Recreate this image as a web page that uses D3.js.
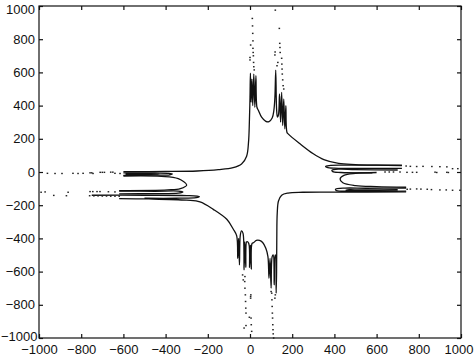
<!DOCTYPE html>
<html>
<head>
<meta charset="utf-8">
<script src="https://cdn.jsdelivr.net/npm/d3@7"></script>
<style>
  body { margin: 0; background: #fff; }
  text { font-family: "Liberation Sans", Arial, sans-serif; font-size: 13px; fill: #111; }
</style>
</head>
<body>
<svg id="chart" width="474" height="361"></svg>
<script>
var xTicks = [-1000, -800, -600, -400, -200, 0, 200, 400, 600, 800, 1000];
var yTicks = [-1000, -800, -600, -400, -200, 0, 200, 400, 600, 800, 1000];

// upper branch: left arm, spikes above, right arm
var upperArm = [[-600,2],[-400,3],[-250,6],[-150,14],[-80,26],[-40,48],[-16,95],[-7,180],[-3,300],[0,450],[2,596],
  [5,420],[9,560],[13,400],[18,590],[23,390],[28,580],[33,390],[40,370],[55,330],[75,305],[90,303],[105,325],
  [113,370],[118,450],[122,614],[126,380],[130,330],[135,345],[140,470],[145,300],[150,480],[155,280],[160,440],
  [165,260],[170,400],[175,240],[182,228],[237,170],[300,110],[350,75],[420,52],[500,45],[600,41],[720,38]];

// lower branch: left arm, spikes below, right arm
var lowerArm = [[-620,-160],[-480,-162],[-300,-170],[-237,-180],[-174,-225],[-110,-285],[-79,-345],[-63,-385],
  [-58,-520],[-54,-400],[-50,-560],[-46,-380],[-40,-355],[-33,-370],[-28,-590],[-24,-420],[-20,-575],[-15,-420],
  [-6,-430],[-2,-575],[2,-440],[6,-585],[10,-430],[18,-425],[30,-412],[45,-412],[60,-425],[75,-460],[85,-510],
  [90,-640],[95,-520],[100,-700],[105,-510],[110,-500],[115,-680],[118,-510],[121,-500],[124,-730],[126,-600],
  [127,-400],[129,-250],[135,-175],[150,-140],[180,-127],[250,-122],[400,-121],[740,-120]];

var rightLoops = [
  [[720,22],[500,22],[400,23],[365,28],[358,34],[375,39],[450,41],[720,42]],
  [[700,12],[500,14],[420,17],[388,10],[392,2],[430,-3],[580,-5]],
  [[600,-3],[500,-8],[445,-20],[427,-42],[440,-65],[500,-82],[600,-88],[740,-92]],
  [[740,-97],[550,-98],[450,-97],[405,-104],[410,-112],[480,-116],[740,-115]],
  [[700,-106],[520,-108],[470,-107],[455,-110],[470,-113],[700,-113]]
];

var leftLoops = [
  [[-600,-5],[-450,-6],[-385,-8],[-368,-12],[-380,-17],[-450,-19],[-600,-20]],
  [[-590,-9],[-470,-10],[-430,-12],[-470,-14],[-590,-15]],
  [[-600,-24],[-420,-26],[-340,-40],[-300,-78],[-330,-100],[-390,-108],[-620,-112]],
  [[-620,-115],[-450,-116],[-340,-115],[-318,-120],[-340,-127],[-450,-130],[-620,-132]],
  [[-750,-140],[-500,-140],[-300,-142],[-240,-148],[-255,-155],[-350,-158],[-500,-158]]
];

var dots = [
  [11,925],[12,880],[13,835],[14,790],[3,765],[14,745],[15,720],[0,690],[0,675],[16,700],[17,660],[18,634],[20,615],
  [120,975],[139,865],[141,775],[142,750],[143,720],[119,723],[118,705],[150,685],[151,650],[152,620],[153,590],
  [155,555],[157,520],[160,500],[132,660],[128,640],
  [-24,-630],[-25,-660],[-24,-700],[-22,-740],[-21,-780],[-20,-820],[-19,-850],[-35,-620],[-32,-650],[-19,-925],
  [-28,-940],[3,-750],[3,-760],[4,-740],[5,-880],[6,-920],[8,-960],[-3,-875],[103,-730],[104,-770],[105,-810],
  [106,-850],[107,-880],[108,-920],[109,-950],[110,-975],[112,-1000],[120,-740],[118,-760],[100,-720],
  [-960,-8],[-924,-9],[-891,-9],[-839,-8],[-815,-9],[-791,-8],[-758,-5],[-750,-5],[-744,-9],[-710,-2],[-700,-2],
  [-690,-2],[-640,-8],[-616,-9],[-660,-1],[-650,-1],
  [-990,-122],[-971,-120],[-862,-122],[-758,-118],[-745,-118],[-725,-118],[-711,-118],[-671,-119],[-640,-120],
  [-930,-141],[-870,-143],[-760,-143],[-740,-144],[-720,-144],[-700,-145],[-680,-145],[-660,-146],[-640,-146],[-620,-146],
  [740,36],[760,34],[790,33],[820,34],[862,33],[900,32],[933,31],[960,20],[985,20],
  [640,0],[660,0],[680,0],[711,0],[744,-2],[770,-2],[790,-2],[877,-1],[885,-3],[933,-2],[940,-3],
  [745,-104],[760,-103],[790,-102],[810,-103],[840,-104],[860,-106],[900,-108],[930,-108],[960,-110],[995,-110]
];

var margin = {left: 39, right: 13, top: 6, bottom: 23};
var width = 474, height = 361;
var svg = d3.select("#chart");

var x = d3.scaleLinear().domain([-1000, 1000]).range([margin.left, width - margin.right]);
var y = d3.scaleLinear().domain([-1000, 1000]).range([height - margin.bottom, margin.top]);

var line = d3.line()
  .x(d => x(d[0]))
  .y(d => y(d[1]))
  .curve(d3.curveCatmullRom.alpha(0.5));

var plot = svg.append("g");

var curves = [upperArm, lowerArm].concat(rightLoops, leftLoops);
plot.selectAll("path.curve")
  .data(curves)
  .enter().append("path")
  .attr("class", "curve")
  .attr("d", line)
  .attr("fill", "none")
  .attr("stroke", "#111")
  .attr("stroke-width", 1.3);

plot.selectAll("rect.dot")
  .data(dots)
  .enter().append("rect")
  .attr("class", "dot")
  .attr("x", d => x(d[0]) - 0.8)
  .attr("y", d => y(d[1]) - 0.7)
  .attr("width", 1.6)
  .attr("height", 1.4)
  .attr("fill", "#222");

// axes, ticks pointing inward on all four sides
var tickLen = 4;
var fmt = d3.format("d");
svg.append("g")
  .attr("class", "xaxis")
  .attr("transform", "translate(0," + y(-1000) + ")")
  .call(d3.axisBottom(x).tickValues(xTicks).tickSizeInner(-tickLen).tickSizeOuter(0).tickPadding(7).tickFormat(fmt))
  .call(g => g.select(".domain").remove());
svg.append("g")
  .attr("transform", "translate(0," + y(1000) + ")")
  .call(d3.axisTop(x).tickValues(xTicks).tickSizeInner(-tickLen).tickSizeOuter(0).tickFormat(""))
  .call(g => g.select(".domain").remove());
svg.append("g")
  .attr("class", "yaxis")
  .attr("transform", "translate(" + x(-1000) + ",0)")
  .call(d3.axisLeft(y).tickValues(yTicks).tickSizeInner(-tickLen).tickSizeOuter(0).tickPadding(4).tickFormat(fmt))
  .call(g => g.select(".domain").remove());
svg.append("g")
  .attr("transform", "translate(" + x(1000) + ",0)")
  .call(d3.axisRight(y).tickValues(yTicks).tickSizeInner(-tickLen).tickSizeOuter(0).tickFormat(""))
  .call(g => g.select(".domain").remove());

svg.selectAll(".tick line").attr("stroke", "#111").attr("stroke-width", 1.2);
svg.selectAll(".tick text").attr("font-size", "13px").attr("font-family", "Liberation Sans, Arial, sans-serif").attr("fill", "#111");

// keep the outermost labels inside the picture
svg.selectAll(".xaxis .tick text").filter(d => d === 1000).attr("text-anchor", "end").attr("x", width - 1 - x(1000));
svg.selectAll(".yaxis .tick text").filter(d => d === 1000).attr("dy", "0.6em");
svg.selectAll(".yaxis .tick text").filter(d => d === -1000)
  .attr("dy", "0.2em").attr("text-anchor", "start").attr("x", 1 - x(-1000));

svg.append("rect")
  .attr("x", x(-1000)).attr("y", y(1000))
  .attr("width", x(1000) - x(-1000)).attr("height", y(-1000) - y(1000))
  .attr("fill", "none").attr("stroke", "#111").attr("stroke-width", 1.2);
</script>
</body>
</html>
